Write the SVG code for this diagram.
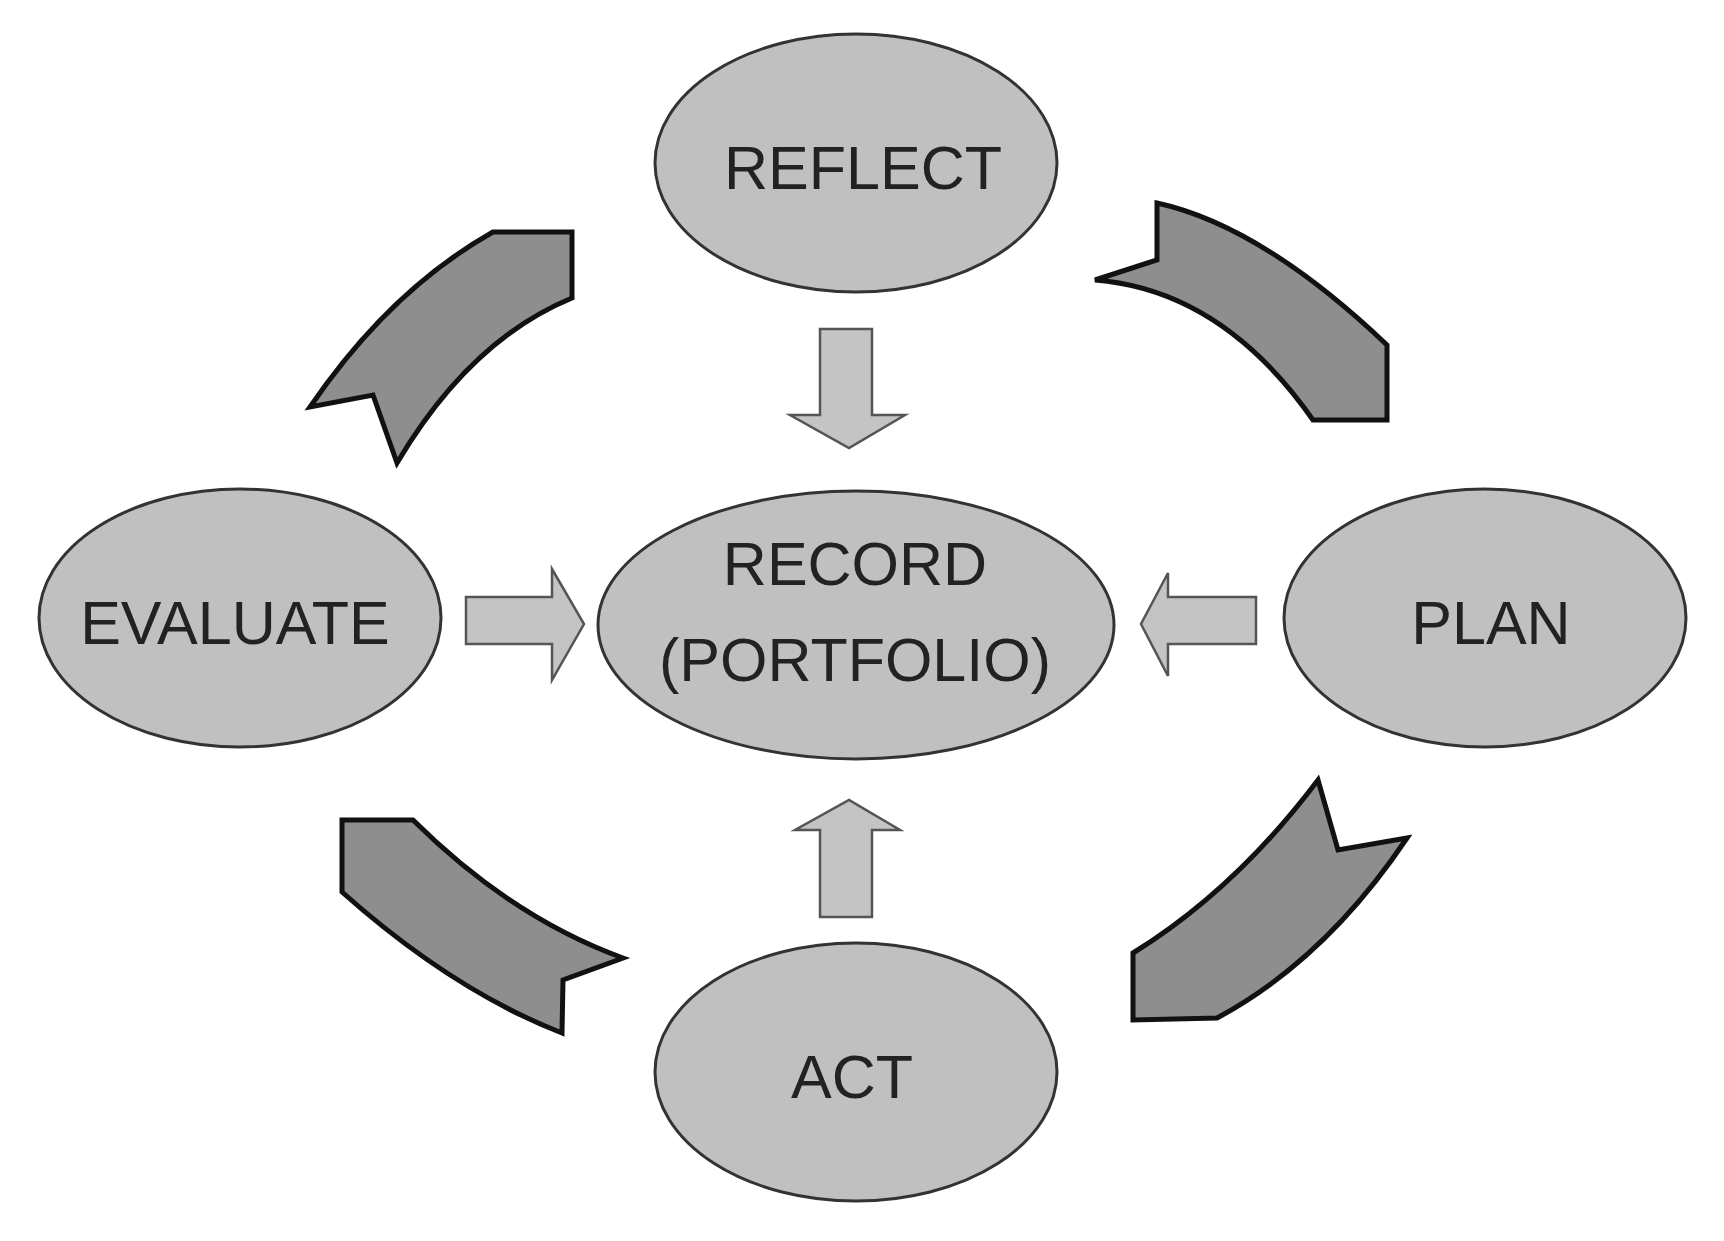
<svg xmlns="http://www.w3.org/2000/svg" width="1724" height="1241" viewBox="0 0 1724 1241">
<style>
.node{fill:#c0c0c0;stroke:#333;stroke-width:3}
.lbl{font-family:"Liberation Sans",Arial,sans-serif;font-size:61px;fill:#222;text-anchor:middle}
.cyc{fill:#8e8e8e;stroke:#111;stroke-width:5;stroke-linejoin:miter}
.blk{fill:#c4c4c4;stroke:#555;stroke-width:2.5}
</style>
<rect width="1724" height="1241" fill="#fff"/>
<g id="connectors">
<path class="cyc" d="M1157,203 Q1262,226 1387,345 L1387,420 L1313,420 Q1222,290 1095,280 L1157,260 Z"/>
<path class="cyc" d="M1318,780 Q1235,890 1133,953 L1133,1020 L1217,1018 Q1325,960 1407,838 L1338,850 Z"/>
<path class="cyc" d="M342,820 L413,820 Q512,918 623,958 L563,980 L562,1033 Q452,990 342,892 Z"/>
<path class="cyc" d="M310,407 Q390,290 493,232 L572,232 L572,298 Q470,340 397,463 L373,395 Z"/>
<path class="blk" d="M820,329 L872,329 L872,415 L905,415 L849,448 L790,415 L820,415 Z"/>
<path class="blk" d="M820,917 L872,917 L872,830 L900,830 L849,800 L795,830 L820,830 Z"/>
<path class="blk" d="M466,597 L552,597 L552,569 L584,624 L552,680 L552,644 L466,644 Z"/>
<path class="blk" d="M1256,597 L1168,597 L1168,573 L1141,624 L1168,676 L1168,644 L1256,644 Z"/>
</g>
<g id="reflect"><ellipse class="node" cx="856" cy="163" rx="201" ry="129"/><text class="lbl" x="863" y="189">REFLECT</text></g>
<g id="record"><ellipse class="node" cx="856" cy="625" rx="258" ry="134"/><text class="lbl" x="855" y="585">RECORD</text><text class="lbl" x="855" y="681">(PORTFOLIO)</text></g>
<g id="evaluate"><ellipse class="node" cx="240" cy="618" rx="201" ry="129"/><text class="lbl" x="235" y="644">EVALUATE</text></g>
<g id="plan"><ellipse class="node" cx="1485" cy="618" rx="201" ry="129"/><text class="lbl" x="1491" y="644">PLAN</text></g>
<g id="act"><ellipse class="node" cx="856" cy="1072" rx="201" ry="129"/><text class="lbl" x="852" y="1098">ACT</text></g>
</svg>
